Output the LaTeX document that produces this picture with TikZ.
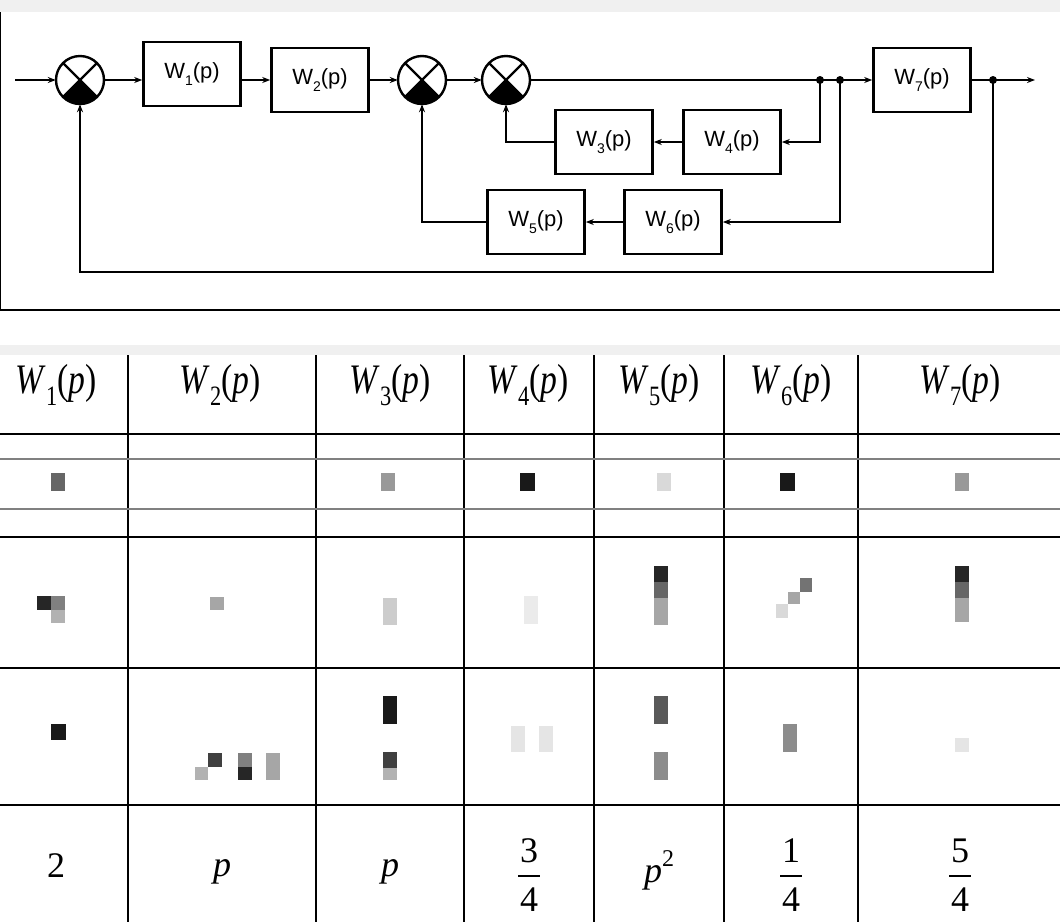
\documentclass[tikz,border=0pt]{standalone}
\usepackage{fontspec}
\setmainfont{Liberation Serif}
\newfontfamily\dsans{Liberation Sans}
\usetikzlibrary{arrows.meta}
\newcommand{\bw}[1]{W\raisebox{-0.3em}{\fontsize{14}{14}\selectfont #1}(p)}
\newcommand{\hw}[1]{\textit{W}\raisebox{-0.3em}{\fontsize{28}{28}\selectfont #1}(\textit{p})}
\begin{document}
\begin{tikzpicture}[x=1pt,y=-1pt,
  blk/.style={draw,line width=2.6pt,minimum width=97pt,minimum height=64pt,font=\dsans\fontsize{22}{24}\selectfont,inner sep=0pt},
  sig/.style={line width=1.5pt,-{Stealth[length=8pt,width=6pt]}},
  ln/.style={line width=1.5pt},
  tl/.style={line width=1.1pt},
  hd/.style={font=\fontsize{42}{46}\selectfont,xscale=0.8},
  vl/.style={font=\fontsize{36}{40}\selectfont,inner sep=0pt}]
\useasboundingbox (0,0) rectangle (1060,922);
\fill[gray!12] (0,0) rectangle (1060,12);
\draw[line width=1.2pt] (0,12) -- (0,310) -- (1060,310);
% summing junctions
\foreach \n/\x in {s1/80,s2/422,s3/506}{
  \coordinate (\n) at (\x,80);
  \fill (\x,80) -- ++(45:24) arc (45:135:24) -- cycle;
  \draw[line width=2.4pt] (\x,80) circle (24);
  \draw[line width=2.4pt] (\x,80) ++(45:24) -- ++(-135:48);
  \draw[line width=2.4pt] (\x,80) ++(135:24) -- ++(-45:48);
  \node[circle,minimum size=48pt,inner sep=0pt] (\n c) at (\x,80) {};
}
\node[blk] (w1) at (192,74) {\bw{1}};
\node[blk] (w2) at (320,80) {\bw{2}};
\node[blk] (w3) at (604,142) {\bw{3}};
\node[blk] (w4) at (732,142) {\bw{4}};
\node[blk] (w5) at (536,222) {\bw{5}};
\node[blk] (w6) at (673,222) {\bw{6}};
\node[blk] (w7) at (922,80) {\bw{7}};
\coordinate (in) at (15,80);
\coordinate (d1) at (820,80);
\coordinate (d2) at (840,80);
\coordinate (d3) at (993,80);
\coordinate (out) at (1035,80);
\fill (d1) circle (4); \fill (d2) circle (4); \fill (d3) circle (4);
\draw[sig] (in) -- (s1c);
\draw[sig] (s1c) -- (w1.west|-s1);
\draw[sig] (w1.east|-s1) -- (w2);
\draw[sig] (w2) -- (s2c);
\draw[sig] (s2c) -- (s3c);
\draw[ln] (s3c) -- (d2);
\draw[sig] (d2) -- (w7);
\draw[ln] (w7) -- (d3);
\draw[sig] (d3) -- (out);
\draw[sig] (d1) |- (w4.east);
\draw[sig] (w4) -- (w3);
\draw[sig] (w3.west) -| (s3c.south);
\draw[sig] (d2) |- (w6.east);
\draw[sig] (w6) -- (w5);
\draw[sig] (w5.west) -| (s2c.south);
\draw[sig] (d3) |- (80,272) -- (s1c.south);
% table
\fill[gray!12] (0,345) rectangle (1060,355);
\foreach \x in {128,316,464,594,724,858}{\draw[tl] (\x,355) -- (\x,922);}
\foreach \y in {434,537,668,805}{\draw[tl] (0,\y) -- (1060,\y);}
\foreach \y in {459,509}{\draw[gray,line width=1.5pt] (0,\y) -- (1060,\y);}
\node[hd] (h1) at (56,385) {\hw{1}};
\node[hd] (h2) at (220,385) {\hw{2}};
\node[hd] (h3) at (390,385) {\hw{3}};
\node[hd] (h4) at (528,385) {\hw{4}};
\node[hd] (h5) at (659,385) {\hw{5}};
\node[hd] (h6) at (791,385) {\hw{6}};
\node[hd] (h7) at (960,385) {\hw{7}};
% obscured cells
\fill[black!60] (51,473) rectangle (65,491);
\fill[black!40] (381,473) rectangle (395,491);
\fill[black!90] (520,473) rectangle (535,491);
\fill[black!15] (657,473) rectangle (671,491);
\fill[black!90] (780,473) rectangle (795,491);
\fill[black!40] (955,473) rectangle (969,491);
\fill[black!85] (37,596) rectangle (51,610); \fill[black!50] (51,596) rectangle (65,610); \fill[black!30] (51,610) rectangle (65,623);
\fill[black!35] (210,597) rectangle (224,610);
\fill[black!20] (383,598) rectangle (397,625);
\fill[black!8] (524,596) rectangle (538,624);
\fill[black!85] (654,566) rectangle (668,582); \fill[black!60] (654,582) rectangle (668,598); \fill[black!35] (654,598) rectangle (668,625);
\fill[black!55] (800,578) rectangle (812,592); \fill[black!35] (788,592) rectangle (800,604); \fill[black!15] (776,604) rectangle (788,618);
\fill[black!85] (955,566) rectangle (969,582); \fill[black!60] (955,582) rectangle (969,598); \fill[black!35] (955,598) rectangle (969,622);
\fill[black!90] (51,724) rectangle (66,740);
\fill[black!75] (208,753) rectangle (222,767); \fill[black!30] (195,767) rectangle (208,780);
\fill[black!50] (238,753) rectangle (252,767); \fill[black!85] (238,767) rectangle (252,780); \fill[black!35] (266,753) rectangle (280,780);
\fill[black!90] (383,696) rectangle (397,724); \fill[black!75] (383,752) rectangle (397,768); \fill[black!30] (383,768) rectangle (397,780);
\fill[black!10] (511,726) rectangle (525,752); \fill[black!10] (539,726) rectangle (553,752);
\fill[black!65] (654,696) rectangle (668,724); \fill[black!45] (654,752) rectangle (668,780);
\fill[black!45] (783,724) rectangle (797,752);
\fill[black!10] (955,738) rectangle (969,752);
% values
\node[vl] (v1) at (56,866) {2};
\node[vl] (v2) at (222,872) {\textit{p}};
\node[vl] (v3) at (390,872) {\textit{p}};
\node[vl] (v5) at (659,870) {\textit{p}\raisebox{0.45em}{\fontsize{24}{24}\selectfont 2}};
\foreach \n/\x/\t in {v4/529/3,v6/791/1,v7/960/5}{
  \node[vl] (\n a) at (\x,851) {\t};
  \node[vl] (\n b) at (\x,900) {4};
  \draw[line width=1.2pt] (\x-11,876) -- (\x+11,876);
}
\end{tikzpicture}
\end{document}
